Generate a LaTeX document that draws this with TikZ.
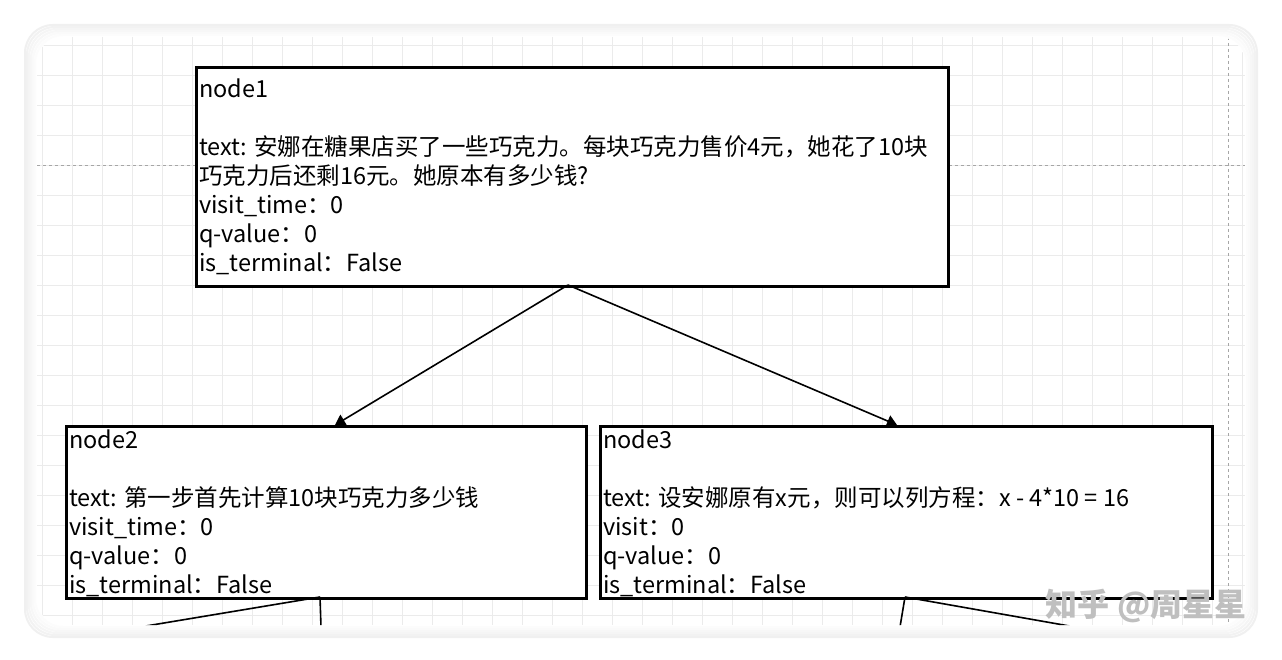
\documentclass[tikz,border=0pt]{standalone}
\usepackage{fontspec}
\setmainfont{Noto Sans CJK SC}
\usetikzlibrary{arrows.meta}
\definecolor{gridc}{HTML}{EBEBEB}
\begin{document}
\begin{tikzpicture}[x=1pt,y=-1pt,
  box/.style={draw=black,line width=3pt},
  txt/.style={anchor=north west,align=left,inner sep=0pt,font=\fontsize{23.5}{29}\selectfont},
  link/.style={line width=1.6pt},
  arr/.style={link,-{Triangle[length=10pt,width=12pt]}}]
\useasboundingbox (0,0) rectangle (1282,660);
\fill[white] (0,0) rectangle (1282,660);
\foreach \i in {1,...,6}{\draw[black!\i,line width=2pt,rounded corners=28pt] (37-\i*2,37-\i*2) rectangle (1245+\i*2,625+\i*2);}
\begin{scope}
\clip[rounded corners=26pt] (37,37) rectangle (1245,625);
\fill[white] (37,37) rectangle (1245,625);
\foreach \x in {42,72,...,1245}{\draw[gridc,line width=0.8pt] (\x,37) -- (\x,625);}
\foreach \y in {45,75,...,625}{\draw[gridc,line width=0.8pt] (37,\y) -- (1245,\y);}
\draw[black!35,dashed,line width=0.8pt] (37,165) -- (1245,165);
\draw[black!35,dashed,line width=0.8pt] (1228,37) -- (1228,625);
\node[box,fill=white,minimum width=752pt,minimum height=219pt,anchor=north west,inner sep=0pt] (n1) at (195,66) {};
\node[box,fill=white,minimum width=520pt,minimum height=172pt,anchor=north west,inner sep=0pt] (n2) at (65,425) {};
\node[box,fill=white,minimum width=612pt,minimum height=172pt,anchor=north west,inner sep=0pt] (n3) at (599,425) {};
\node[txt] (t1) at (199,79) {node1\\[29pt]text: 安娜在糖果店买了一些巧克力。每块巧克力售价4元，她花了10块\\巧克力后还剩16元。她原本有多少钱?\\visit\_time：0\\q-value：0\\is\_terminal：False};
\node[txt] (t2) at (69,430) {node2\\[29pt]text: 第一步首先计算10块巧克力多少钱\\visit\_time：0\\q-value：0\\is\_terminal：False};
\node[txt] (t3) at (603,430) {node3\\[29pt]text: 设安娜原有x元，则可以列方程：x - 4*10 = 16\\visit：0\\q-value：0\\is\_terminal：False};
\coordinate (a1) at (568,285);
\coordinate (b2) at (335,425);
\coordinate (b3) at (897,425);
\draw[arr] (a1) -- (b2);
\draw[arr] (a1) -- (b3);
\coordinate (c2) at (320,597);
\coordinate (c3) at (905,597);
\coordinate (d1) at (140,627);
\coordinate (d2) at (321,627);
\coordinate (d3) at (900,627);
\coordinate (d4) at (1075,627);
\draw[link] (c2) -- (d1); \draw[link] (c2) -- (d2);
\draw[link] (c3) -- (d3); \draw[link] (c3) -- (d4);
\end{scope}
\node[anchor=east,text=black!25,font=\fontsize{32}{32}\selectfont\bfseries] (wm) at (1250,606) {知乎 @周星星};
\end{tikzpicture}
\end{document}
